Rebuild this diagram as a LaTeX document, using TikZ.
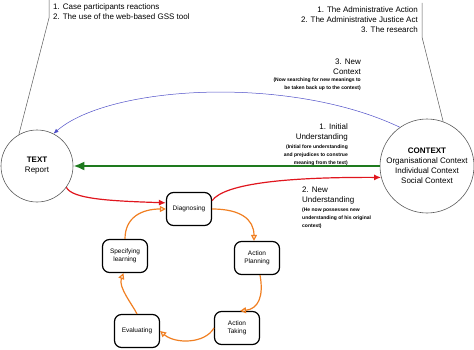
\documentclass[tikz,border=0pt]{standalone}
\usepackage{fontspec}
\setmainfont{Liberation Sans}
\usetikzlibrary{arrows.meta}
\definecolor{rot}{HTML}{E0161E}
\definecolor{gruen}{HTML}{1E7A1E}
\definecolor{blau}{HTML}{5050C8}
\definecolor{zorange}{HTML}{F07F22}
\definecolor{grau}{HTML}{5A5A5A}
\tikzset{
  kreis/.style={circle,draw=grau,line width=0.6pt,align=center,inner sep=0pt,font=\fontsize{8}{10}\selectfont},
  kasten/.style={draw,rounded corners=7pt,line width=1.2pt,minimum width=45pt,minimum height=33pt,align=center,inner sep=1pt,font=\fontsize{6.5}{8.5}\selectfont},
  lbl/.style={inner sep=0pt,font=\fontsize{8}{10}\selectfont},
  note/.style={inner sep=0pt,font=\fontsize{5}{8}\selectfont\bfseries},
  vecr/.style={-{Latex[length=7pt,width=6pt]},rot,line width=1.2pt},
  vecg/.style={-{Latex[length=11pt,width=9pt]},gruen,line width=2.5pt},
  vecb/.style={-{Latex[length=5pt,width=4pt]},blau,line width=0.5pt},
  zyk/.style={-{Triangle[open,length=6pt,width=6pt]},zorange,line width=1.2pt},
  hilf/.style={grau,line width=0.5pt},
}
\begin{document}
\begin{tikzpicture}[x=1pt,y=1pt]
  \useasboundingbox (0,0) rectangle (474,349);
  \node[kreis,minimum size=72pt] (text) at (37,183) {\textbf{TEXT}\\Report};
  \node[kreis,minimum size=94pt] (context) at (427,183) {\textbf{CONTEXT}\\Organisational Context\\Individual Context\\Social Context};
  \node[kasten] (diag) at (189,140) {Diagnosing};
  \node[kasten] (plan) at (257,91) {Action\\Planning};
  \node[kasten] (take) at (237,21) {Action\\Taking};
  \node[kasten] (eval) at (137,18) {Evaluating};
  \node[kasten] (spec) at (125,93) {Specifying\\learning};
  \node[lbl,align=left,anchor=north west] (quellen) at (53,345) {1. Case participants reactions\\2. The use of the web-based GSS tool};
  \node[lbl,align=right,anchor=north east] (rahmen) at (418,342) {1. The Administrative Action\\2. The Administrative Justice Act\\3. The research};
  \node[lbl,align=right,anchor=north east] (neukon) at (361,290) {3. New\\Context};
  \node[note,align=right,anchor=north east] (neukonn) at ([yshift=-3pt]neukon.south east) {(Now searching for new meanings to\\be taken back up to the context)};
  \node[lbl,align=right,anchor=north east] (erstv) at (348,225) {1. Initial\\Understanding};
  \node[note,align=right,anchor=north east] (erstvn) at ([yshift=-3pt]erstv.south east) {(Initial fore understanding\\and prejudices to construe\\meaning from the text)};
  \node[lbl,align=left,anchor=north west] (neuv) at (302,162) {2. New\\Understanding};
  \node[note,align=left,anchor=north west] (neuvn) at ([yshift=-3pt]neuv.south west) {(He now possesses new\\understanding of his original\\context)};
  \coordinate (qk) at (49,331); \coordinate (ql) at (49,349);
  \coordinate (rk) at (422,312); \coordinate (rl) at (422,346);
  \draw[hilf] (text.120) -- (qk) -- (ql);
  \draw[hilf] (context.70) -- (rk) -- (rl);
  \draw[vecb] (context.125) .. controls (290,274) and (110,264) .. (text.63);
  \draw[vecg] (context.west) -- (text.east);
  \draw[vecr] (text.-36) .. controls (72,150) and (110,148) .. (diag.165);
  \draw[vecr] (diag.20) .. controls (225,166) and (290,172) .. (context.194);
  \draw[zyk] (diag.east) .. controls (240,140) and (254,130) .. (plan.100);
  \draw[zyk] (plan.-80) .. controls (264,52) and (258,40) .. (take.80);
  \draw[zyk] (take.west) .. controls (205,5) and (175,5) .. (eval.east);
  \draw[zyk] (eval.north) .. controls (132,45) and (118,62) .. (spec.-95);
  \draw[zyk] (spec.north) .. controls (125,132) and (142,140) .. (diag.west);
\end{tikzpicture}
\end{document}
